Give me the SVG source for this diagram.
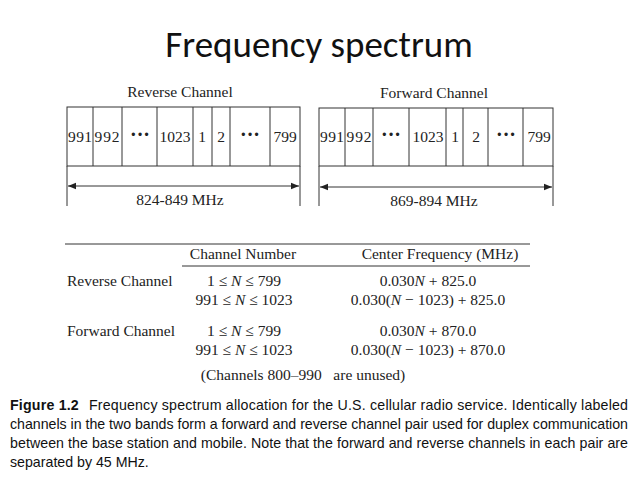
<svg xmlns="http://www.w3.org/2000/svg" width="638" height="478" viewBox="0 0 638 478">
<style>
.s{font-family:"Liberation Serif",serif;fill:#222;font-size:15.5px}
.c{text-anchor:middle}
.d{font-size:20px;font-weight:bold}
.l{stroke:#333;stroke-width:1;fill:none}
.cap{font-family:"Liberation Sans",sans-serif;font-size:14.2px;fill:#111}
</style>
<defs><marker id="a" viewBox="0 0 10 10" refX="10" refY="5" markerWidth="8" markerHeight="8" orient="auto-start-reverse"><path d="M0,1L10,5L0,9z" fill="#222"/></marker></defs>
<rect width="638" height="478" fill="#fff"/>
<text x="319" y="57" class="c" font-family="Carlito,'Open Sans',sans-serif" font-size="37" fill="#111">Frequency spectrum</text>
<g id="reverse">
<text x="180" y="97" class="s c">Reverse Channel</text>
<rect x="67" y="107" width="233" height="59" class="l"/>
<path class="l" d="M67,166V206M300,166V206M93,107V166M122,107V166M157,107V166M193,107V166M212,107V166M230,107V166M270,107V166"/>
<g class="s c"><text x="80" y="142" textLength="24">991</text><text x="107" y="142" textLength="25">992</text><text x="140" y="141" class="d">···</text><text x="175" y="142">1023</text><text x="202" y="142">1</text><text x="221" y="142">2</text><text x="250" y="141" class="d">···</text><text x="285" y="142">799</text></g>
<text x="180" y="205" class="s c">824-849 MHz</text>
</g>
<g id="forward">
<text x="434" y="98" class="s c">Forward Channel</text>
<rect x="319" y="108" width="234" height="58" class="l"/>
<path class="l" d="M319,166V206M553,166V206M345,108V166M373,108V166M409,108V166M446,108V166M463,108V166M488,108V166M523,108V166"/>
<g class="s c"><text x="332" y="142" textLength="24">991</text><text x="359" y="142" textLength="25">992</text><text x="391" y="141" class="d">···</text><text x="428" y="142">1023</text><text x="455" y="142">1</text><text x="476" y="142">2</text><text x="506" y="141" class="d">···</text><text x="539" y="142">799</text></g>
<text x="434" y="206" class="s c">869-894 MHz</text>
</g>
<g id="connectors">
<line x1="68" y1="186" x2="299" y2="186" class="l" marker-start="url(#a)" marker-end="url(#a)"/>
<line x1="320" y1="187" x2="552" y2="187" class="l" marker-start="url(#a)" marker-end="url(#a)"/>
</g>
<g id="table">
<path class="l" d="M65,244H530M182,266H530"/>
<g class="s">
<text x="243" y="259" class="c">Channel Number</text>
<text x="440" y="259" class="c">Center Frequency (MHz)</text>
<text x="67" y="286">Reverse Channel</text>
<text x="244" y="286" class="c">1 ≤ <tspan font-style="italic">N</tspan> ≤ 799</text>
<text x="244" y="305" class="c">991 ≤ <tspan font-style="italic">N</tspan> ≤ 1023</text>
<text x="428" y="286" class="c">0.030<tspan font-style="italic">N</tspan> + 825.0</text>
<text x="428" y="305" class="c">0.030(<tspan font-style="italic">N</tspan> − 1023) + 825.0</text>
<text x="67" y="336">Forward Channel</text>
<text x="244" y="336" class="c">1 ≤ <tspan font-style="italic">N</tspan> ≤ 799</text>
<text x="244" y="355" class="c">991 ≤ <tspan font-style="italic">N</tspan> ≤ 1023</text>
<text x="428" y="336" class="c">0.030<tspan font-style="italic">N</tspan> + 870.0</text>
<text x="428" y="355" class="c">0.030(<tspan font-style="italic">N</tspan> − 1023) + 870.0</text>
<text x="303" y="380" class="c" xml:space="preserve">(Channels 800–990   are unused)</text>
</g>
</g>
<g id="caption" class="cap">
<text x="10" y="410" textLength="618"><tspan font-weight="bold">Figure 1.2</tspan><tspan dx="10">Frequency spectrum allocation for the U.S. cellular radio service. Identically labeled</tspan></text>
<text x="10" y="429" textLength="618">channels in the two bands form a forward and reverse channel pair used for duplex communication</text>
<text x="10" y="448" textLength="618">between the base station and mobile. Note that the forward and reverse channels in each pair are</text>
<text x="10" y="467">separated by 45 MHz.</text>
</g>
</svg>
